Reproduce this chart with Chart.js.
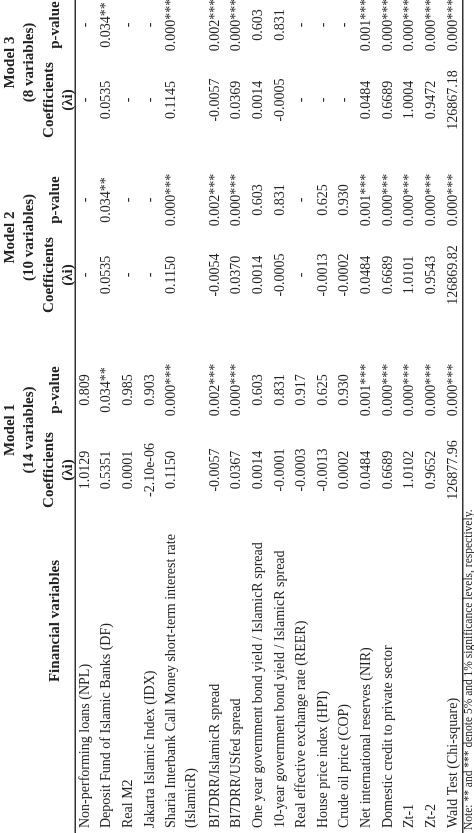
<!DOCTYPE html>
<html>
<head>
<meta charset="utf-8">
<script src="https://cdn.jsdelivr.net/npm/chart.js@4/dist/chart.umd.min.js"></script>
<style>
  html, body { margin: 0; padding: 0; background: #fff; overflow: hidden; }
  #wrap { position: absolute; left: 0; top: 0; width: 833px; height: 474px;
          transform-origin: 0 0; transform: translateY(833px) rotate(-90deg); }
</style>
</head>
<body>
<div id="wrap"><canvas id="myChart" width="833" height="474"></canvas></div>
<script>
// table content
var variables = ["Non-performing loans (NPL)", "Deposit Fund of Islamic Banks (DF)", "Real M2",
  "Jakarta Islamic Index (IDX)", "Sharia Interbank Call Money short-term interest rate\n(IslamicR)",
  "BI7DRR/IslamicR spread", "BI7DRR/USfed spread", "One year government bond yield / IslamicR spread",
  "10-year government bond yield / IslamicR spread", "Real effective exchange rate (REER)",
  "House price index (HPI)", "Crude oil price (COP)", "Net international reserves (NIR)",
  "Domestic credit to private sector", "Zt-1", "Zt-2", "Wald Test (Chi-square)"];
var rowSlot = [0, 1, 2, 3, 4, 6, 7, 8, 9, 10, 11, 12, 13, 14, 15, 16, 17];

var coef1 = ["1.0129", "0.5351", "0.0001", "-2.10e-06", "0.1150", "-0.0057", "0.0367", "0.0014", "-0.0001", "-0.0003", "-0.0013", "0.0002", "0.0484", "0.6689", "1.0102", "0.9652", "126877.96"];
var pval1 = ["0.809", "0.034**", "0.985", "0.903", "0.000***", "0.002***", "0.000***", "0.603", "0.831", "0.917", "0.625", "0.930", "0.001***", "0.000***", "0.000***", "0.000***", "0.000***"];
var coef2 = ["-", "0.0535", "-", "-", "0.1150", "-0.0054", "0.0370", "0.0014", "-0.0005", "-", "-0.0013", "-0.0002", "0.0484", "0.6689", "1.0101", "0.9543", "126869.82"];
var pval2 = ["-", "0.034**", "-", "-", "0.000***", "0.002***", "0.000***", "0.603", "0.831", "-", "0.625", "0.930", "0.001***", "0.000***", "0.000***", "0.000***", "0.000***"];
var coef3 = ["-", "0.0535", "-", "-", "0.1145", "-0.0057", "0.0369", "0.0014", "-0.0005", "-", "-", "-", "0.0484", "0.6689", "1.0004", "0.9472", "126867.18"];
var pval3 = ["-", "0.034**", "-", "-", "0.000***", "0.002***", "0.000***", "0.603", "0.831", "-", "-", "-", "0.001***", "0.000***", "0.000***", "0.000***", "0.000***"];

var models = ["Model 1", "Model 2", "Model 3"];
var modelVars = ["(14 variables)", "(10 variables)", "(8 variables)"];
var note = "Note: ** and *** denote 5% and 1% significance levels, respectively.";

// column centres (x units == pixels of the unrotated table)
var colX = [363, 443, 558, 633, 733, 808];
var cols = [coef1, pval1, coef2, pval2, coef3, pval3];

var datasets = cols.map(function (c, k) {
  return {
    data: c.map(function (v, i) { return { x: colX[k], y: rowSlot[i], t: v }; }),
    pointRadius: 0, showLine: false
  };
});
datasets.push({
  data: variables.map(function (v, i) { return { x: 5, y: rowSlot[i], t: v }; }),
  pointRadius: 0, showLine: false, left: true
});

var serif = '"Liberation Serif", serif';

var tablePlugin = {
  id: 'table',
  afterDatasetsDraw: function (chart) {
    var ctx = chart.ctx, xs = chart.scales.x, ys = chart.scales.y;
    ctx.save();
    ctx.fillStyle = '#222';
    ctx.textBaseline = 'middle';
    chart.data.datasets.forEach(function (ds, k) {
      var meta = chart.getDatasetMeta(k);
      ctx.font = ds.left ? '14px ' + serif : '14px ' + serif;
      ctx.textAlign = ds.left ? 'left' : 'center';
      meta.data.forEach(function (pt, i) {
        var lines = ds.data[i].t.split('\n');
        lines.forEach(function (l, j) {
          ctx.fillText(l, pt.x, pt.y + j * (ys.getPixelForValue(1) - ys.getPixelForValue(0)) * 0.9);
        });
      });
    });
    // headers
    ctx.textAlign = 'center';
    ctx.font = 'bold 15px ' + serif;
    ctx.fillText('Financial variables', xs.getPixelForValue(212), ys.getPixelForValue(-1.4));
    for (var m = 0; m < 3; m++) {
      var cx = (colX[2 * m] + colX[2 * m + 1]) / 2;
      ctx.fillText(models[m], xs.getPixelForValue(cx), ys.getPixelForValue(-3.45));
      ctx.fillText(modelVars[m], xs.getPixelForValue(cx), ys.getPixelForValue(-2.6));
      ctx.fillText('Coefficients', xs.getPixelForValue(colX[2 * m]), ys.getPixelForValue(-1.65));
      ctx.fillText('(\u03BBi)', xs.getPixelForValue(colX[2 * m]), ys.getPixelForValue(-0.8));
      ctx.fillText('p-value', xs.getPixelForValue(colX[2 * m + 1]), ys.getPixelForValue(-1.4));
    }
    ctx.textAlign = 'left';
    ctx.font = '11.5px ' + serif;
    ctx.fillText(note, xs.getPixelForValue(3), ys.getPixelForValue(17.75));
    // rules
    ctx.strokeStyle = '#333';
    ctx.lineWidth = 1.5;
    [-0.45, 17.45].forEach(function (r) {
      ctx.beginPath();
      ctx.moveTo(xs.getPixelForValue(0), ys.getPixelForValue(r));
      ctx.lineTo(xs.getPixelForValue(833), ys.getPixelForValue(r));
      ctx.stroke();
    });
    ctx.restore();
  }
};

var ctx = document.getElementById('myChart').getContext('2d');
var chart = new Chart(ctx, {
  type: 'scatter',
  data: { datasets: datasets },
  options: {
    responsive: false,
    animation: false,
    layout: { padding: 0 },
    plugins: { legend: { display: false }, tooltip: { enabled: false } },
    scales: {
      x: { type: 'linear', min: 0, max: 833, display: false },
      y: { type: 'linear', min: -3.93, max: 17.97, reverse: true, display: false }
    }
  },
  plugins: [tablePlugin]
});
</script>
</body>
</html>
